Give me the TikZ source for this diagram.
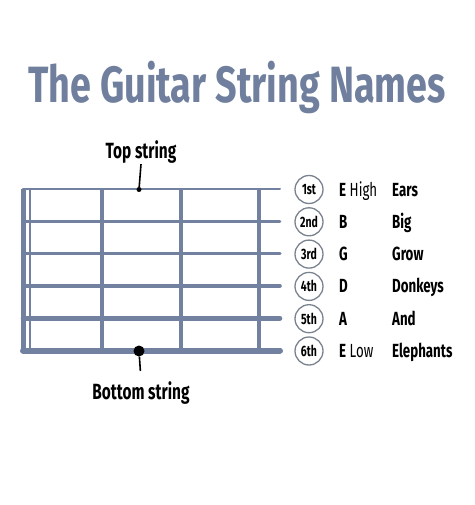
\documentclass[tikz,border=0pt]{standalone}
\usepackage{fontspec}
\setmainfont{Fira Sans}
\newfontfamily\condfont[FakeStretch=0.7]{Fira Sans}
\newfontfamily\titlefont[FakeStretch=0.74]{Fira Sans}

\definecolor{fretblue}{RGB}{113,129,159}
\definecolor{titleblue}{RGB}{111,127,157}
\definecolor{ringgray}{RGB}{122,130,143}

\tikzset{
  fretline/.style={draw=fretblue, line width=4.5pt},
  stringline/.style={draw=fretblue, line cap=round},
  ordinal/.style={circle, draw=ringgray, line width=1.3pt, minimum size=28pt, inner sep=0pt,
    font=\condfont\bfseries\fontsize{15}{15}\selectfont},
  notename/.style={anchor=base west, inner sep=0pt, font=\condfont\fontsize{19}{19}\selectfont},
  callout/.style={anchor=base, inner sep=1pt, font=\condfont\bfseries\fontsize{22}{22}\selectfont},
  pointer/.style={draw=black, line width=1.6pt}
}

\begin{document}
\begin{tikzpicture}[x=1pt, y=-1pt]
\useasboundingbox (0,0) rectangle (474,505);

% Title
\node[anchor=base, inner sep=0pt, text=titleblue, font=\titlefont\bfseries\fontsize{51}{51}\selectfont] (title) at (237,103) {The Guitar String Names};

% Strings, thin to thick
\foreach \i/\w in {1/2,2/2.8,3/3.2,4/3.6,5/4.6,6/6}
  \draw[stringline, line width=\w pt] (23,{189+32.3*(\i-1)}) -- (280,{189+32.3*(\i-1)});

% Nut and frets
\draw[fretblue, line width=5pt] (23,189) -- (23,351);
\draw[fretblue, line width=1.8pt] (30,189) -- (30,351);
\foreach \x in {102,181,259}
  \draw[fretline] (\x,189) -- (\x,351);

% Callouts
\node[circle, fill=black, inner sep=0pt, minimum size=5pt] (topdot) at (139,189.5) {};
\node[circle, fill=black, inner sep=0pt, minimum size=11pt] (botdot) at (139,351) {};
\node[callout] (toplabel) at (141,158) {Top string};
\node[callout] (botlabel) at (141,399) {Bottom string};
\draw[pointer] (toplabel.south) -- (topdot);
\draw[pointer, shorten >=9pt] (botdot) -- (botlabel.north);

% Legend
\foreach \i/\ord/\note/\word in {1/1st/{\textbf{E} High}/Ears, 2/2nd/{\textbf{B}}/Big,
    3/3rd/{\textbf{G}}/Grow, 4/4th/{\textbf{D}}/Donkeys, 5/5th/{\textbf{A}}/And,
    6/6th/{\textbf{E} Low}/Elephants}{
  \node[ordinal] (ring\i) at (309,{189.5+32.3*(\i-1)}) {\ord};
  \node[notename] (note\i) at (339,{196+32.3*(\i-1)}) {\note};
  \node[notename, font=\condfont\bfseries\fontsize{19}{19}\selectfont] (word\i) at (392,{196+32.3*(\i-1)}) {\word};
}
\end{tikzpicture}
\end{document}
